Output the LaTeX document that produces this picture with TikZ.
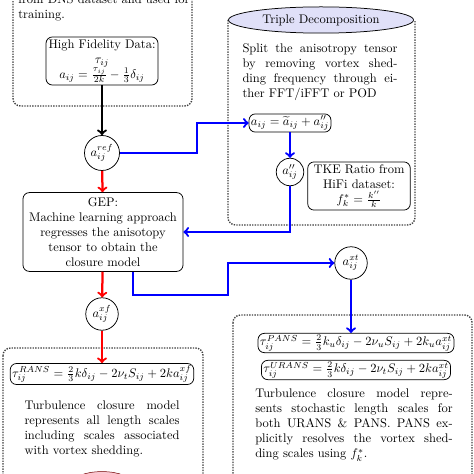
\documentclass[tikz,border=0pt]{standalone}
\usepackage{amsmath}
\usetikzlibrary{shapes.geometric}

\definecolor{lavender}{RGB}{224,224,248}
\definecolor{rosepink}{RGB}{250,200,210}

\begin{document}
\begin{tikzpicture}[x=0.8pt, y=-0.8pt,
        dotline/.style={line width=1.1pt, densely dotted, rounded corners=6pt, black!75},
        eqbox/.style={draw, rounded corners=5pt, line width=0.6pt, inner sep=1.5pt},
        varnode/.style={draw, circle, inner sep=1pt, line width=0.6pt, fill=white},
        flow/.style={->, line width=1.8pt},
        para/.style={align=justify, inner sep=0pt}]
        \clip (0, 0) rectangle (474, 474);

        % left column
        \draw[dotline] (13, -30) rectangle (192, 106);
        \node[anchor=west, align=left, inner sep=0pt] (dns) at (18, 8) {from DNS dataset and used for\\training.};
        \node[eqbox, inner sep=2pt, align=center] (hfd) at (102, 61) {High Fidelity Data:\\$\tau_{ij}$\\$a_{ij}=\frac{\tau_{ij}}{2k}-\frac{1}{3}\delta_{ij}$};
        \node[varnode, minimum size=28pt] (aref) at (102, 153) {$a_{ij}^{ref}$};
        \node[draw, rounded corners=5pt, line width=0.6pt, align=center, minimum width=128pt, minimum height=63pt] (gep) at (103, 232) {GEP:\\Machine learning approach\\regresses the anisotopy\\tensor to obtain the\\closure model};
        \node[varnode, minimum size=26pt] (axf) at (102, 314) {$a_{ij}^{xf}$};

        \draw[dotline] (3, 348) rectangle (203, 520);
        \node[eqbox] (rans) at (102, 374) {$\tau_{ij}^{RANS}=\frac{2}{3}k\delta_{ij}-2\nu_tS_{ij}+2ka_{ij}^{xf}$};
        \node[para, text width=124pt, anchor=north] (rtext) at (102, 401) {Turbulence closure model represents all length scales including scales associated with vortex shedding.};
        \node[draw=red!45!black, fill=rosepink, ellipse, minimum width=46pt, minimum height=18pt] (rmod) at (102, 484) {RANS};

        % triple decomposition
        \draw[dotline] (228, 20) -- (228, 225) -- (415, 225) -- (415, 20);
        \node[draw, fill=lavender, ellipse, line width=0.6pt, minimum width=148pt, minimum height=21pt, inner sep=0pt] (triple) at (321, 20) {Triple Decomposition};
        \node[para, text width=124pt, anchor=north] (split) at (320, 43) {Split the anisotropy tensor by removing vortex shedding frequency through either FFT/iFFT or POD};
        \node[eqbox] (eqa) at (290, 123) {$a_{ij}=\widetilde{a}_{ij}+a''_{ij}$};
        \node[varnode, minimum size=22pt] (app) at (290, 172) {$a''_{ij}$};
        \node[eqbox, inner sep=2pt, align=center, minimum width=82pt] (tke) at (359, 186) {TKE Ratio from\\HiFi dataset:\\$f_k^*=\frac{k''}{k}$};
        \node[varnode, minimum size=26pt] (axt) at (351, 263) {$a_{ij}^{xt}$};

        % right bottom
        \draw[dotline] (233, 315) rectangle (472, 520);
        \node[eqbox] (pans) at (356, 343) {$\tau_{ij}^{PANS}=\frac{2}{3}k_u\delta_{ij}-2\nu_uS_{ij}+2k_ua_{ij}^{xt}$};
        \node[eqbox] (urans) at (356, 370) {$\tau_{ij}^{URANS}=\frac{2}{3}k\delta_{ij}-2\nu_tS_{ij}+2ka_{ij}^{xt}$};
        \node[para, text width=158pt, anchor=north] (ptext) at (354, 389) {Turbulence closure model repre-\linebreak sents stochastic length scales for\linebreak both URANS \& PANS. PANS ex-\linebreak plicitly resolves the vortex shed-\linebreak ding scales using $f_k^*$.};

        % connectors
        \draw[flow] (hfd) -- (aref);
        \draw[flow, red] (aref) -- (gep);
        \draw[flow, red] (gep) -- (axf);
        \draw[flow, red] (axf) -- (rans);
        \draw[flow, blue] (aref.east) -- ++(77, 0) |- (eqa.west);
        \draw[flow, blue] (eqa) -- (app);
        \draw[flow, blue] (app) |- (gep.east);
        \draw[flow, blue] (133, 0 |- gep.south) |- (228, 295) |- (axt.west);
        \draw[flow, blue] (axt) -- (axt |- pans.north);
    \end{tikzpicture}
\end{document}
